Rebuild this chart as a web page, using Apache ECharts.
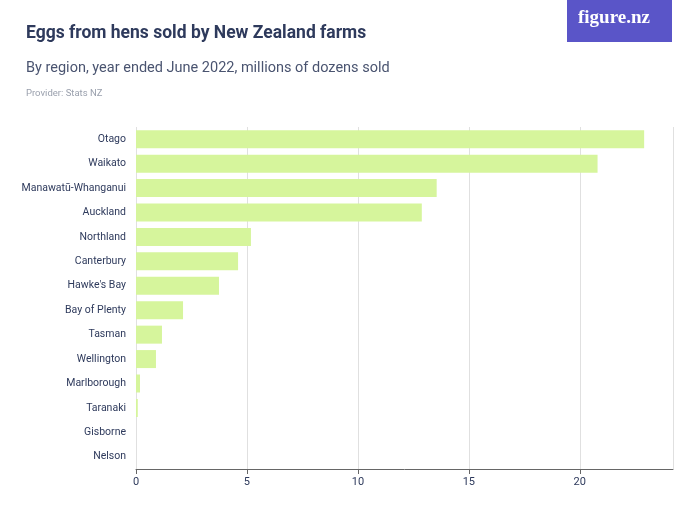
<!DOCTYPE html>
<html>
<head>
<meta charset="utf-8">
<script src="https://cdn.jsdelivr.net/npm/echarts@6/dist/echarts.min.js"></script>
<style>
  body { margin: 0; background: #fff; }
  #main { width: 700px; height: 525px; }
</style>
</head>
<body>
<div id="main"></div>
<script>
// regions, top to bottom as in the picture
var regions = ['Otago', 'Waikato', 'Manawatū-Whanganui', 'Auckland', 'Northland', 'Canterbury',
  "Hawke's Bay", 'Bay of Plenty', 'Tasman', 'Wellington', 'Marlborough', 'Taranaki', 'Gisborne', 'Nelson'];
var dozens = [22.9, 20.8, 13.55, 12.88, 5.18, 4.6, 3.74, 2.12, 1.17, 0.9, 0.18, 0.08, 0, 0];

var chart = echarts.init(document.getElementById('main'));
var font = 'Roboto';
var navy = '#2e3a5c';

chart.setOption({
  animation: false,
  textStyle: { fontFamily: font },
  graphic: [
    { type: 'text', left: 26, top: 25, style: { text: 'Eggs from hens sold by New Zealand farms', fontSize: 17.5, fontWeight: 'bold', fill: navy, fontFamily: font } },
    { type: 'text', left: 26, top: 61, style: { text: 'By region, year ended June 2022, millions of dozens sold', fontSize: 14.5, fill: '#4a5470', fontFamily: font } },
    { type: 'text', left: 26, top: 89, style: { text: 'Provider: Stats NZ', fontSize: 9.5, fill: '#9aa0ad', fontFamily: font } },
    { type: 'rect', shape: { x: 567, y: 0, width: 105, height: 42 }, style: { fill: '#5a55c8' } },
    { type: 'text', left: 578, top: 9, style: { text: 'figure.nz', fontSize: 19, fontWeight: 'bold', fill: '#fff', fontFamily: '"Liberation Serif"' } }
  ],
  grid: { left: 136, right: 27, top: 127, bottom: 56 },
  xAxis: {
    type: 'value', min: 0, max: 24.2, interval: 5,
    axisLine: { show: true, lineStyle: { color: '#666' } },
    axisTick: { show: true, length: 5, lineStyle: { color: '#666' } },
    axisLabel: { color: navy, fontSize: 11, showMaxLabel: false, margin: 8 },
    splitLine: { lineStyle: { color: '#e0e0e0' } }
  },
  yAxis: {
    type: 'category', inverse: true, data: regions,
    axisLine: { show: false }, axisTick: { show: false },
    axisLabel: { color: navy, fontSize: 10.5, margin: 10 }
  },
  series: [{
    type: 'bar', data: dozens, barWidth: 18,
    itemStyle: { color: '#d6f59c' }
  }]
});
</script>
</body>
</html>
